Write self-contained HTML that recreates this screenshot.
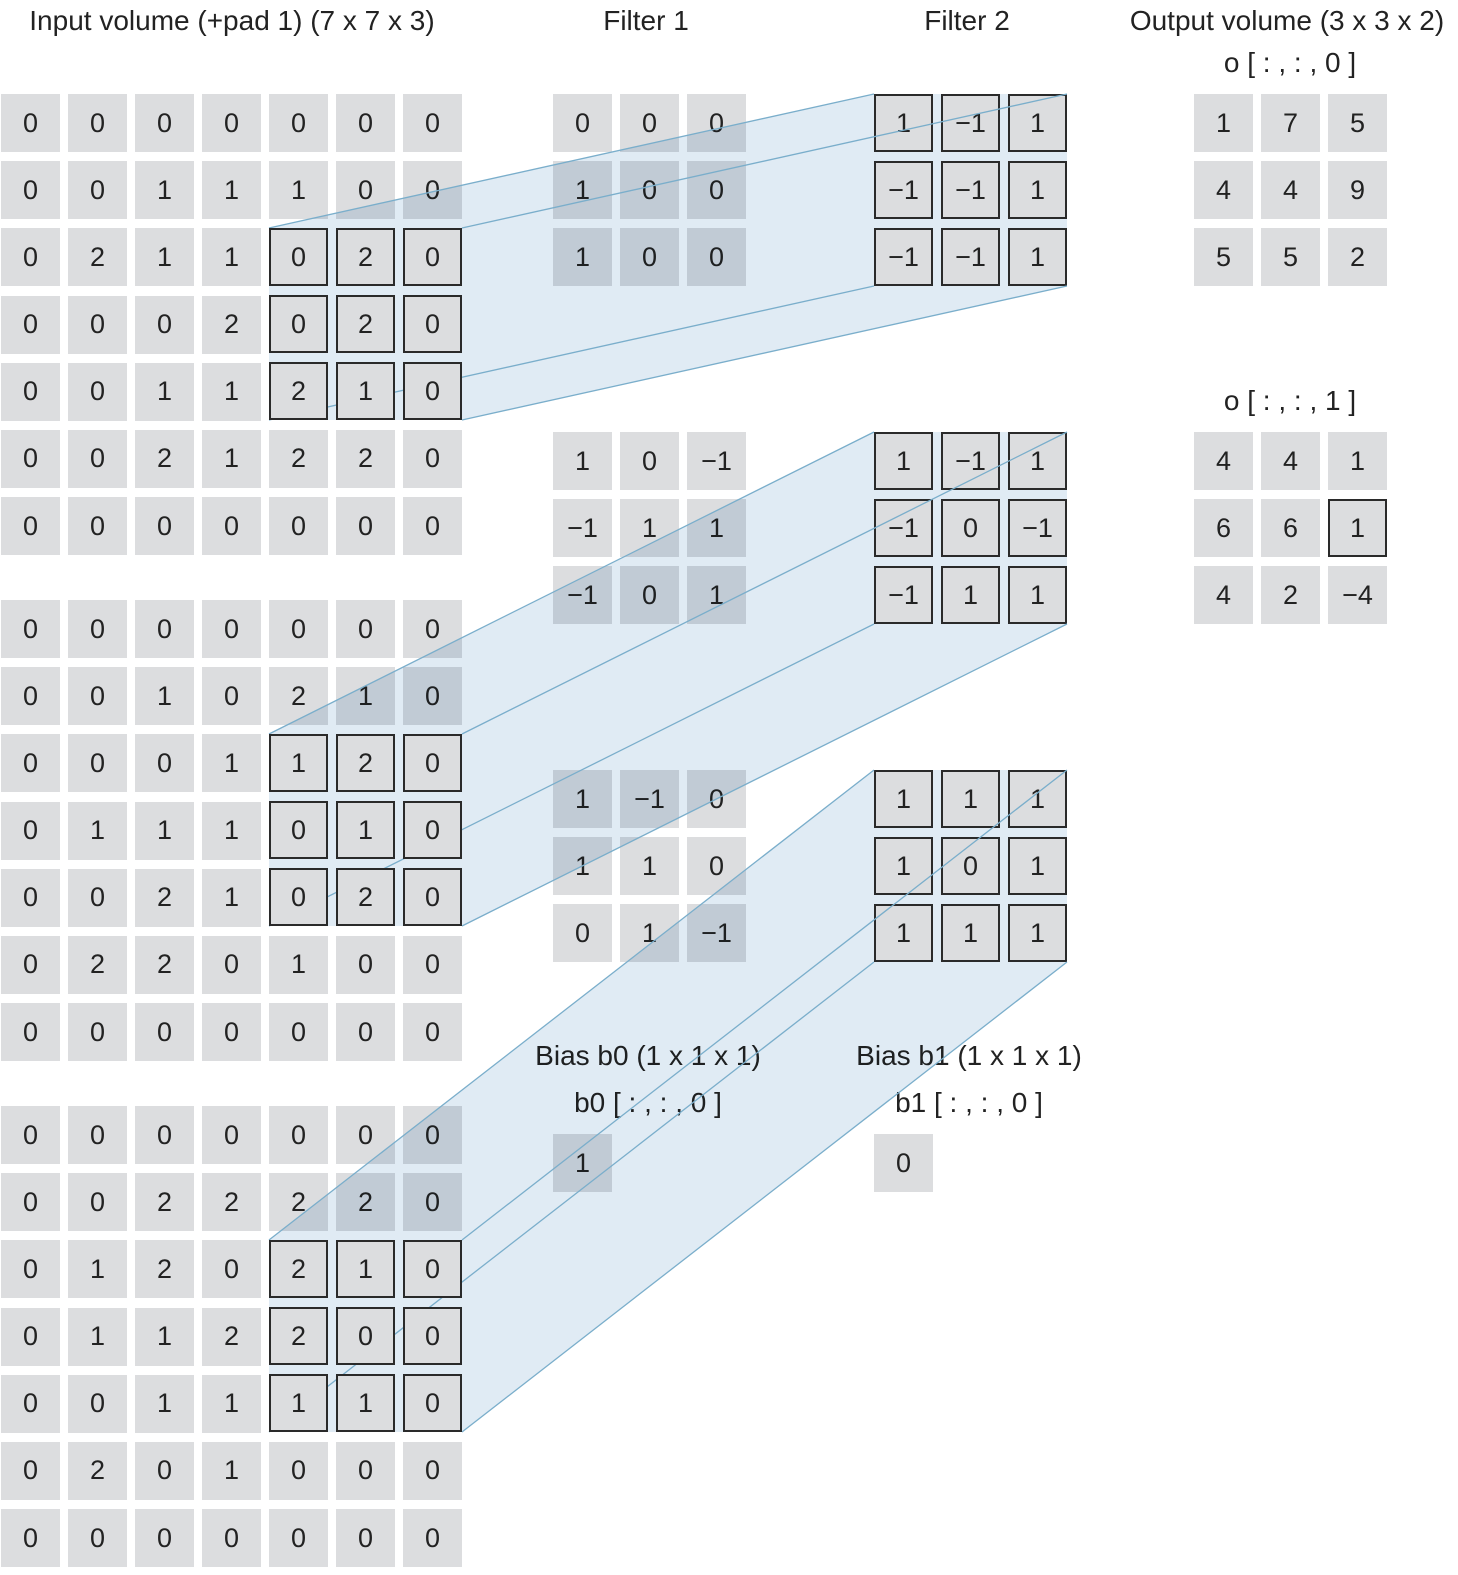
<!DOCTYPE html>
<html><head><meta charset="utf-8"><style>
body{margin:0;background:#fff;width:1458px;height:1575px;position:relative;overflow:hidden;font-family:"Liberation Sans",sans-serif;color:#222}
.g{position:absolute;display:grid;grid-auto-rows:58px;row-gap:9.2px;column-gap:8px}
.g7{grid-template-columns:repeat(7,59px)}
.g3{grid-template-columns:repeat(3,59px)}
.g div{background:#dcdddf;display:flex;align-items:center;justify-content:center;font-size:27px}
.g div.e{background:transparent}
.g div.b{box-sizing:border-box;border:2px solid #2a2a2a}
.t{position:absolute;font-size:28px;white-space:nowrap;transform:translateX(-50%)}
svg{position:absolute;left:0;top:0}
.mul{mix-blend-mode:multiply}
.z1{z-index:1}.z2{z-index:2}.z3{z-index:3}.z4{z-index:4}.z5{z-index:5}
</style></head><body>
<div class="t" style="left:232px;top:5px">Input volume (+pad 1) (7 x 7 x 3)</div>
<div class="t" style="left:646px;top:5px">Filter 1</div>
<div class="t" style="left:967px;top:5px">Filter 2</div>
<div class="t" style="left:1287px;top:5px">Output volume (3 x 3 x 2)</div>
<div class="t" style="left:1290px;top:47px">o [ : , : , 0 ]</div>
<div class="t" style="left:1290px;top:385px">o [ : , : , 1 ]</div>
<div class="t" style="left:648px;top:1040px">Bias b0 (1 x 1 x 1)</div>
<div class="t" style="left:648px;top:1087px">b0 [ : , : , 0 ]</div>
<div class="t" style="left:969px;top:1040px">Bias b1 (1 x 1 x 1)</div>
<div class="t" style="left:969px;top:1087px">b1 [ : , : , 0 ]</div>

<div class="g g7 z1" style="left:1px;top:94px">
<div>0</div><div>0</div><div>0</div><div>0</div><div>0</div><div>0</div><div>0</div>
<div>0</div><div>0</div><div>1</div><div>1</div><div>1</div><div>0</div><div>0</div>
<div>0</div><div>2</div><div>1</div><div>1</div><div class="e"></div><div class="e"></div><div class="e"></div>
<div>0</div><div>0</div><div>0</div><div>2</div><div class="e"></div><div class="e"></div><div class="e"></div>
<div>0</div><div>0</div><div>1</div><div>1</div><div class="e"></div><div class="e"></div><div class="e"></div>
<div>0</div><div>0</div><div>2</div><div>1</div><div>2</div><div>2</div><div>0</div>
<div>0</div><div>0</div><div>0</div><div>0</div><div>0</div><div>0</div><div>0</div>
</div>
<div class="g g7 z1" style="left:1px;top:600px">
<div>0</div><div>0</div><div>0</div><div>0</div><div>0</div><div>0</div><div>0</div>
<div>0</div><div>0</div><div>1</div><div>0</div><div>2</div><div>1</div><div>0</div>
<div>0</div><div>0</div><div>0</div><div>1</div><div class="e"></div><div class="e"></div><div class="e"></div>
<div>0</div><div>1</div><div>1</div><div>1</div><div class="e"></div><div class="e"></div><div class="e"></div>
<div>0</div><div>0</div><div>2</div><div>1</div><div class="e"></div><div class="e"></div><div class="e"></div>
<div>0</div><div>2</div><div>2</div><div>0</div><div>1</div><div>0</div><div>0</div>
<div>0</div><div>0</div><div>0</div><div>0</div><div>0</div><div>0</div><div>0</div>
</div>
<div class="g g7 z1" style="left:1px;top:1106px">
<div>0</div><div>0</div><div>0</div><div>0</div><div>0</div><div>0</div><div>0</div>
<div>0</div><div>0</div><div>2</div><div>2</div><div>2</div><div>2</div><div>0</div>
<div>0</div><div>1</div><div>2</div><div>0</div><div class="e"></div><div class="e"></div><div class="e"></div>
<div>0</div><div>1</div><div>1</div><div>2</div><div class="e"></div><div class="e"></div><div class="e"></div>
<div>0</div><div>0</div><div>1</div><div>1</div><div class="e"></div><div class="e"></div><div class="e"></div>
<div>0</div><div>2</div><div>0</div><div>1</div><div>0</div><div>0</div><div>0</div>
<div>0</div><div>0</div><div>0</div><div>0</div><div>0</div><div>0</div><div>0</div>
</div>

<div class="g g3 z1" style="left:553px;top:94px"><div>0</div><div>0</div><div>0</div><div>1</div><div>0</div><div>0</div><div>1</div><div>0</div><div>0</div></div>
<div class="g g3 z1" style="left:553px;top:432px"><div>1</div><div>0</div><div>&minus;1</div><div>&minus;1</div><div>1</div><div>1</div><div>&minus;1</div><div>0</div><div>1</div></div>
<div class="g g3 z1" style="left:553px;top:770px"><div>1</div><div>&minus;1</div><div>0</div><div>1</div><div>1</div><div>0</div><div>0</div><div>1</div><div>&minus;1</div></div>
<div class="g g3 z1" style="left:553px;top:1134px"><div>1</div></div>
<div class="g g3 z1" style="left:874px;top:1134px"><div>0</div></div>

<div class="g g3 z1" style="left:1194px;top:94px"><div>1</div><div>7</div><div>5</div><div>4</div><div>4</div><div>9</div><div>5</div><div>5</div><div>2</div></div>
<div class="g g3 z1" style="left:1194px;top:432px"><div>4</div><div>4</div><div>1</div><div>6</div><div>6</div><div class="b">1</div><div>4</div><div>2</div><div>&minus;4</div></div>

<svg class="z2 mul" width="1458" height="1575">
<g fill="#e0ebf4" stroke="none">
<polygon points="269,228 874,94 1067,94 1067,286 462,420 269,420"/>
<polygon points="269,734 874,432 1067,432 1067,624 462,926 269,926"/>
<polygon points="269,1240 874,770 1067,770 1067,962 462,1432 269,1432"/>
</g>
</svg>

<div class="g g3 z3" style="left:874px;top:94px"><div class="b">1</div><div class="b">&minus;1</div><div class="b">1</div><div class="b">&minus;1</div><div class="b">&minus;1</div><div class="b">1</div><div class="b">&minus;1</div><div class="b">&minus;1</div><div class="b">1</div></div>
<div class="g g3 z3" style="left:874px;top:432px"><div class="b">1</div><div class="b">&minus;1</div><div class="b">1</div><div class="b">&minus;1</div><div class="b">0</div><div class="b">&minus;1</div><div class="b">&minus;1</div><div class="b">1</div><div class="b">1</div></div>
<div class="g g3 z3" style="left:874px;top:770px"><div class="b">1</div><div class="b">1</div><div class="b">1</div><div class="b">1</div><div class="b">0</div><div class="b">1</div><div class="b">1</div><div class="b">1</div><div class="b">1</div></div>

<svg class="z4" width="1458" height="1575">
<g stroke="#7aaecb" stroke-width="1.3" fill="none">
<line x1="269" y1="228" x2="874" y2="94"/><line x1="462" y1="228" x2="1067" y2="94"/>
<line x1="269" y1="420" x2="874" y2="286"/><line x1="462" y1="420" x2="1067" y2="286"/>
<line x1="269" y1="734" x2="874" y2="432"/><line x1="462" y1="734" x2="1067" y2="432"/>
<line x1="269" y1="926" x2="874" y2="624"/><line x1="462" y1="926" x2="1067" y2="624"/>
<line x1="269" y1="1240" x2="874" y2="770"/><line x1="462" y1="1240" x2="1067" y2="770"/>
<line x1="269" y1="1432" x2="874" y2="962"/><line x1="462" y1="1432" x2="1067" y2="962"/>
</g>
</svg>

<div class="g g3 z5" style="left:269px;top:228px"><div class="b">0</div><div class="b">2</div><div class="b">0</div><div class="b">0</div><div class="b">2</div><div class="b">0</div><div class="b">2</div><div class="b">1</div><div class="b">0</div></div>
<div class="g g3 z5" style="left:269px;top:734px"><div class="b">1</div><div class="b">2</div><div class="b">0</div><div class="b">0</div><div class="b">1</div><div class="b">0</div><div class="b">0</div><div class="b">2</div><div class="b">0</div></div>
<div class="g g3 z5" style="left:269px;top:1240px"><div class="b">2</div><div class="b">1</div><div class="b">0</div><div class="b">2</div><div class="b">0</div><div class="b">0</div><div class="b">1</div><div class="b">1</div><div class="b">0</div></div>
</body></html>
